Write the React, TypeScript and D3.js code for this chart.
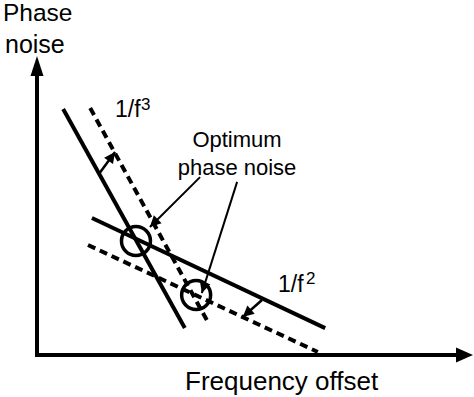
import React, { useEffect, useRef } from 'react'
import * as d3 from 'd3'

// schematic units: x = frequency offset, y = phase noise (0..100 each)
const slopeLines = [
  { name: '1/f3', x1: 6.0, y1: 82.3, x2: 33.9, y2: 9.0, dashed: false },
  { name: '1/f3 opt', x1: 12.2, y1: 82.6, x2: 39.2, y2: 11.0, dashed: true },
  { name: '1/f2', x1: 12.6, y1: 45.8, x2: 66.1, y2: 9.0, dashed: false },
  { name: '1/f2 opt', x1: 11.7, y1: 36.8, x2: 64.4, y2: 1.0, dashed: true },
]

const optimumPoints = [
  { x: 22.7, y: 38.1 },
  { x: 36.5, y: 20.1 },
]

const shiftArrows = [
  { x1: 14.2, y1: 60.5, x2: 17.9, y2: 67.9 },
  { x1: 51.6, y1: 18.4, x2: 47.2, y2: 12.7 },
]

const calloutArrows = [
  { x1: 37.4, y1: 59.5, x2: 25.9, y2: 42.8 },
  { x1: 45.9, y1: 57.9, x2: 37.8, y2: 20.7 },
]

const FONT = "'Liberation Sans', Arial, sans-serif"

function arrowHead(g: any, x1: number, y1: number, x2: number, y2: number, len: number, half: number) {
  const a = Math.atan2(y2 - y1, x2 - x1)
  const bx = x2 - len * Math.cos(a), by = y2 - len * Math.sin(a)
  const px = -Math.sin(a) * half, py = Math.cos(a) * half
  g.append('polygon')
    .attr('points', `${x2},${y2} ${bx + px},${by + py} ${bx - px},${by - py}`)
    .attr('fill', 'black')
}

function drawDiagram(node: SVGSVGElement) {
  const svg = d3.select(node)
  svg.selectAll('*').remove()

  const x = d3.scaleLinear().domain([0, 100]).range([37, 473])
  const y = d3.scaleLinear().domain([0, 100]).range([355, 56])

  const g = svg.append('g')

  // axes
  g.append('line')
    .attr('x1', x(0)).attr('y1', y(0)).attr('x2', x(0)).attr('y2', y(100) + 15)
    .attr('stroke', 'black').attr('stroke-width', 4)
  g.append('line')
    .attr('x1', x(0) - 2).attr('y1', y(0)).attr('x2', x(100) - 14).attr('y2', y(0))
    .attr('stroke', 'black').attr('stroke-width', 4)
  arrowHead(g, x(0), y(0), x(0), y(100), 20, 6.5)
  arrowHead(g, x(0), y(0), x(100), y(0), 17, 7.5)

  // slope lines
  g.selectAll('.slope')
    .data(slopeLines)
    .enter()
    .append('line')
    .attr('class', 'slope')
    .attr('x1', (d) => x(d.x1))
    .attr('y1', (d) => y(d.y1))
    .attr('x2', (d) => x(d.x2))
    .attr('y2', (d) => y(d.y2))
    .attr('stroke', 'black')
    .attr('stroke-width', 4)
    .attr('stroke-dasharray', (d) => (d.dashed ? '8,5' : null))

  // optimum circles
  g.selectAll('.opt')
    .data(optimumPoints)
    .enter()
    .append('circle')
    .attr('class', 'opt')
    .attr('cx', (d) => x(d.x))
    .attr('cy', (d) => y(d.y))
    .attr('r', 14.5)
    .attr('fill', 'none')
    .attr('stroke', 'black')
    .attr('stroke-width', 3.5)

  // shift arrows
  shiftArrows.forEach((d) => {
    g.append('line')
      .attr('x1', x(d.x1)).attr('y1', y(d.y1)).attr('x2', x(d.x2)).attr('y2', y(d.y2))
      .attr('stroke', 'black').attr('stroke-width', 2.5)
    arrowHead(g, x(d.x1), y(d.y1), x(d.x2), y(d.y2), 11, 5.5)
  })

  // callout arrows
  calloutArrows.forEach((d) => {
    g.append('line')
      .attr('x1', x(d.x1)).attr('y1', y(d.y1)).attr('x2', x(d.x2)).attr('y2', y(d.y2))
      .attr('stroke', 'black').attr('stroke-width', 2)
    arrowHead(g, x(d.x1), y(d.y1), x(d.x2), y(d.y2), 11, 5.5)
  })

  // labels
  const text = (tx: number, ty: number, s: string, size: number, anchor = 'start') =>
    g.append('text')
      .attr('x', tx).attr('y', ty)
      .attr('font-family', FONT)
      .attr('font-size', size)
      .attr('text-anchor', anchor)
      .attr('fill', 'black')
      .text(s)

  text(3, 21, 'Phase', 24.5)
  text(5, 53, 'noise', 25)
  text(185, 390, 'Frequency offset', 26)
  text(237, 147, 'Optimum', 22, 'middle')
  text(237, 175, 'phase noise', 22, 'middle')
  text(115, 117, '1/f', 23)
  text(141, 110, '3', 17)
  text(278, 292, '1/f', 23)
  text(306, 284, '2', 17)
}

export default function App() {
  const ref = useRef<SVGSVGElement>(null)
  useEffect(() => {
    if (ref.current) drawDiagram(ref.current)
  }, [])
  return (
    <svg
      ref={ref}
      width={474}
      height={397}
      style={{ position: 'absolute', left: 0, top: 0, background: 'white' }}
    />
  )
}
